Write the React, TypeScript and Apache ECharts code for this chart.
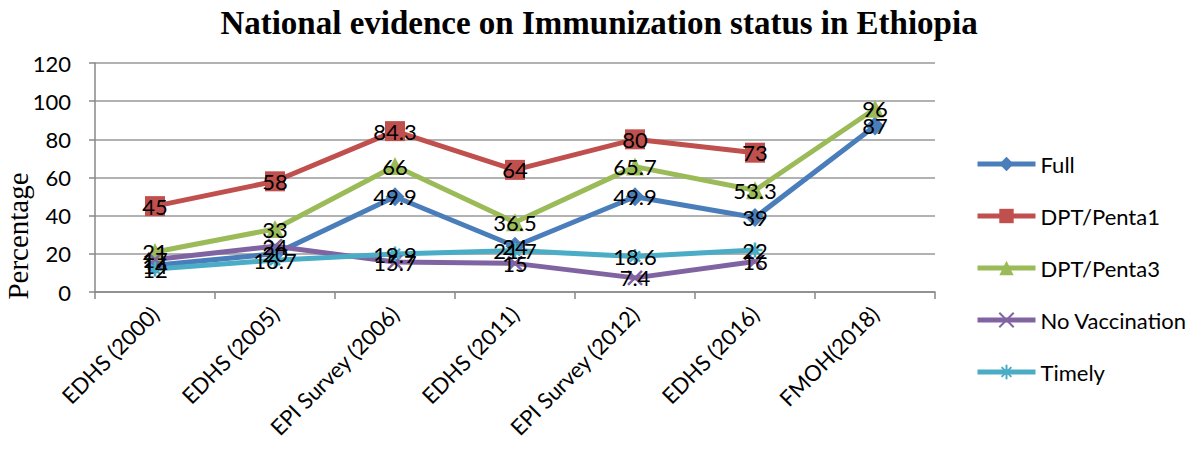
import React, { useEffect, useRef } from "react";
import * as echarts from "echarts";

const categories = [
  "EDHS (2000)",
  "EDHS (2005)",
  "EPI Survey (2006)",
  "EDHS (2011)",
  "EPI Survey (2012)",
  "EDHS (2016)",
  "FMOH(2018)",
];
const full = [14, 20, 49.9, 24, 49.9, 39, 87];
const penta1 = [45, 58, 84.3, 64, 80, 73, null];
const penta3 = [21, 33, 66, 36.5, 65.7, 53.3, 96];
const noVacc = [17, 24, 15.7, 15, 7.4, 16, null];
const timely = [12, 16.7, 19.9, 21.7, 18.6, 22, null];
const yTicks = [0, 20, 40, 60, 80, 100, 120];

const SANS = "Lato, 'Open Sans', sans-serif";

const xPath = "path://M0 0L10 10M10 0L0 10";
const starPath = "path://M5 0L5 10M0 5L10 5M1.6 1.6L8.4 8.4M8.4 1.6L1.6 8.4";

function mk(name: string, data: (number | null)[], color: string, symbol: string, size: number, stroke = false) {
  return {
    name,
    type: "line",
    data,
    symbol,
    symbolSize: size,
    connectNulls: false,
    lineStyle: { color, width: 5 },
    itemStyle: stroke
      ? { color, borderColor: color, borderWidth: 2.5 }
      : { color },
    label: {
      show: true,
      position: "inside",
      color: "#000",
      fontFamily: SANS,
      fontSize: 22,
    },
    emphasis: { disabled: true },
  };
}

export default function App() {
  const ref = useRef<HTMLDivElement>(null);
  useEffect(() => {
    const chart = echarts.init(ref.current!, null, { renderer: "svg" });
    chart.setOption({
      animation: false,
      backgroundColor: "#fff",
      title: {
        text: "National evidence on Immunization status in Ethiopia",
        left: 594,
        textAlign: "center",
        top: 1,
        textStyle: {
          fontFamily: "'Liberation Serif', serif",
          fontWeight: "bold",
          fontSize: 33,
          color: "#000",
        },
      },
      graphic: [
        {
          type: "text",
          x: 18,
          y: 236,
          rotation: Math.PI / 2,
          style: {
            text: "Percentage",
            fontFamily: "'Liberation Serif', serif",
            fontSize: 29,
            fill: "#000",
            align: "center",
            verticalAlign: "middle",
          },
        },
      ],
      legend: {
        orient: "vertical",
        left: 970,
        top: 148,
        itemWidth: 58,
        itemHeight: 18,
        itemGap: 30,
        lineStyle: { width: 5 },
        textStyle: { fontFamily: SANS, fontSize: 22, color: "#000" },
        data: ["Full", "DPT/Penta1", "DPT/Penta3", "No Vaccination", "Timely"],
      },
      grid: { left: 95, right: 265, top: 63, bottom: 172 },
      xAxis: {
        type: "category",
        data: categories,
        boundaryGap: true,
        axisLine: { lineStyle: { color: "#888", width: 1.5 } },
        axisTick: { show: true, length: 7, lineStyle: { color: "#888", width: 1.5 } },
        axisLabel: {
          rotate: 45,
          fontFamily: SANS,
          fontSize: 22,
          color: "#000",
          margin: 18,
        },
      },
      yAxis: {
        type: "value",
        min: yTicks[0],
        max: yTicks[yTicks.length - 1],
        interval: 20,
        axisLine: { show: true, lineStyle: { color: "#888", width: 1.5 } },
        axisTick: { show: true, length: 6, lineStyle: { color: "#888", width: 1.5 } },
        axisLabel: { fontFamily: SANS, fontSize: 22, color: "#000", margin: 24 },
        splitLine: { lineStyle: { color: "#999", width: 1.5 } },
      },
      series: [
        mk("Full", full, "#4A7EBB", "diamond", 19),
        mk("DPT/Penta1", penta1, "#C0504D", "rect", 20),
        mk("DPT/Penta3", penta3, "#9BBB59", "triangle", 18),
        mk("No Vaccination", noVacc, "#8064A2", xPath, 14, true),
        mk("Timely", timely, "#4BACC6", starPath, 15, true),
      ],
    });
    return () => chart.dispose();
  }, []);
  return (
    <div
      ref={ref}
      style={{ position: "fixed", left: 0, top: 0, width: 1200, height: 464 }}
    />
  );
}
